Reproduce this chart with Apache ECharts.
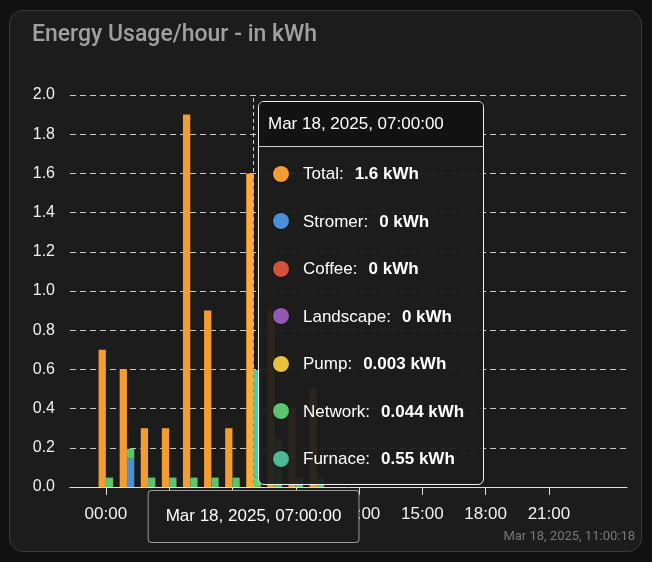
<!DOCTYPE html>
<html>

<head>
    <meta charset="UTF-8">
    <title>Energy Usage/hour</title>
    <script src="https://cdn.jsdelivr.net/npm/echarts@6/dist/echarts.min.js"></script>
    <style>
        html, body { margin: 0; padding: 0; background: #111111; }
        #card {
            position: absolute; left: 9px; top: 10px; width: 631px; height: 540px;
            background: #1c1c1c; border: 1px solid #3a3a3a; border-radius: 14px;
        }
        #main { position: absolute; left: 0; top: 0; width: 652px; height: 562px; }
    </style>
</head>

<body>
    <div id="card"></div>
    <div id="main"></div>

    <script>
        // hours of Mar 18, 2025
        var hours = [0, 1, 2, 3, 4, 5, 6, 7, 8, 9, 10];
        var tickHours = [0, 3, 6, 9, 12, 15, 18, 21];

        var total = [0.7, 0.6, 0.3, 0.3, 1.9, 0.9, 0.3, 1.6, 0.9, 0.4, 0.5];
        var stromer = [0, 0.145, 0, 0, 0, 0, 0, 0, 0, 0, 0];
        var coffee = [0, 0, 0, 0, 0, 0, 0, 0, 0, 0, 0];
        var landscape = [0, 0, 0, 0, 0, 0, 0, 0, 0, 0, 0];
        var pump = [0, 0, 0, 0, 0, 0, 0, 0.003, 0, 0, 0];
        var network = [0.048, 0.05, 0.048, 0.048, 0.048, 0.048, 0.048, 0.044, 0.05, 0.05, 0.045];
        var furnace = [0, 0, 0, 0, 0, 0, 0, 0.55, 0.2, 0, 0];

        var names = ['Total', 'Stromer', 'Coffee', 'Landscape', 'Pump', 'Network', 'Furnace'];
        var colors = ['#f39c33', '#4a90d9', '#d4513b', '#9457b3', '#e8c23f', '#5cc46c', '#4cb898'];
        var values = [total, stromer, coffee, landscape, pump, network, furnace];

        var font = "'Liberation Sans', Arial, sans-serif";

        function pad(h) { return (h < 10 ? '0' : '') + h; }
        function stamp(h) { return 'Mar 18, 2025, ' + pad(Math.round(h)) + ':00:00'; }

        // value first, hour second: so the stack goes on the value and not on the hour
        var series = names.map(function (n, i) {
            return {
                name: n,
                type: 'bar',
                stack: i === 0 ? 'total' : 'parts',
                barWidth: 7.3,
                barGap: 0,
                encode: { x: 1, y: 0 },
                itemStyle: { color: colors[i] },
                data: hours.map(function (h, j) { return [values[i][j], h]; })
            };
        });

        var myChart = echarts.init(document.getElementById('main'), null, { renderer: 'canvas' });

        option = {
            backgroundColor: 'transparent',
            animation: false,
            title: [{
                text: 'Energy Usage/hour - in kWh',
                left: 32, top: 24, padding: 0,
                textStyle: { fontFamily: 'Roboto', fontSize: 23, fontWeight: 500, color: '#a0a0a0' }
            }, {
                text: 'Mar 18, 2025, 11:00:18',
                right: 17, top: 530, padding: 0,
                textStyle: { fontFamily: 'Roboto', fontSize: 13, fontWeight: 'normal', color: '#787878' }
            }],
            grid: { left: 70, right: 25, top: 95, bottom: 75 },
            tooltip: {
                trigger: 'axis',
                triggerOn: 'none',
                alwaysShowContent: true,
                transitionDuration: 0,
                padding: 0,
                backgroundColor: 'rgba(28,28,28,0.93)',
                borderColor: '#eeeeee',
                borderWidth: 1,
                extraCssText: 'border-radius:6px;box-shadow:none;',
                position: function () { return [258, 101]; },
                axisPointer: {
                    type: 'line',
                    z: 1,
                    lineStyle: { color: '#cccccc', type: [4, 3], width: 1 },
                    label: {
                        show: true,
                        margin: 4,
                        formatter: function (p) { return stamp(p.value); },
                        backgroundColor: '#1c1c1c',
                        borderColor: '#9a9a9a',
                        borderWidth: 1,
                        padding: [17, 17],
                        color: '#ffffff',
                        fontFamily: font,
                        fontSize: 17
                    }
                },
                formatter: function (params) {
                    var h = params[0].value[1];
                    var s = '<div style="width:224px;font-family:' + font.replace(/'/g, '') + ';color:#fff;font-size:17px;">' +
                        '<div style="height:44px;line-height:44px;padding-left:9px;background:#121212;' +
                        'border-bottom:1px solid #cfcfcf;border-radius:5px 5px 0 0;">' + stamp(h) + '</div>' +
                        '<div style="padding-top:3px;padding-bottom:1px;">';
                    params.forEach(function (p) {
                        s += '<div style="height:47.5px;display:flex;align-items:center;">' +
                            '<span style="display:inline-block;width:16px;height:16px;border-radius:8px;margin-left:14px;margin-right:14px;background:' +
                            p.color + ';box-shadow:0 0 0 1px rgba(0,0,0,0.4);"></span>' +
                            p.seriesName + ':<b style="margin-left:11px;">' + p.value[0] + ' kWh</b></div>';
                    });
                    return s + '</div></div>';
                }
            },
            xAxis: {
                type: 'value',
                min: -1.7,
                max: 24.7,
                splitLine: { show: false },
                axisLine: { show: true, lineStyle: { color: '#e0e0e0', width: 1 } },
                axisTick: { show: true, customValues: tickHours, length: 8, lineStyle: { color: '#e0e0e0' } },
                axisLabel: {
                    customValues: tickHours,
                    margin: 19,
                    color: '#f0f0f0',
                    fontFamily: font,
                    fontSize: 17,
                    formatter: function (v) { return pad(v) + ':00'; }
                }
            },
            yAxis: {
                type: 'value',
                min: 0,
                max: 2,
                interval: 0.2,
                axisLine: { show: false },
                axisTick: { show: false },
                splitLine: { lineStyle: { color: '#c8c8c8', type: [6, 4], width: 1 } },
                axisLabel: {
                    margin: 15,
                    color: '#f0f0f0',
                    fontFamily: font,
                    fontSize: 16,
                    formatter: function (v) { return v.toFixed(1); }
                }
            },
            series: series
        };

        myChart.setOption(option);
        myChart.dispatchAction({ type: 'showTip', seriesIndex: 0, dataIndex: 7 });
    </script>
</body>

</html>
